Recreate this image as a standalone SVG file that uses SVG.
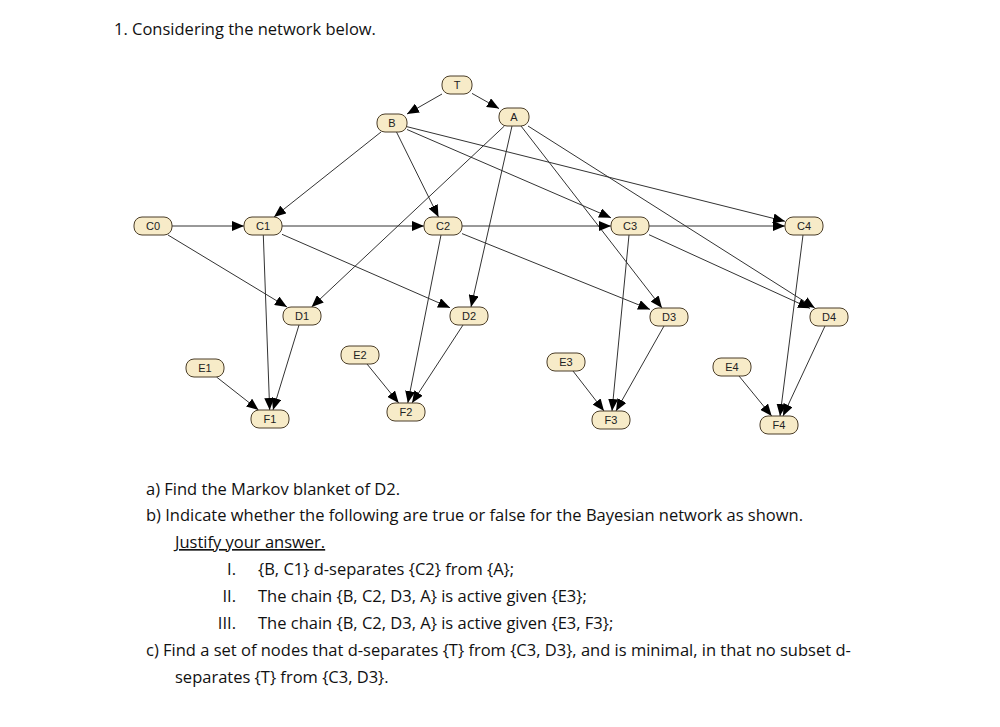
<svg xmlns="http://www.w3.org/2000/svg" width="1000" height="727" viewBox="0 0 1000 727">
<style>
.n rect{fill:#f7ebc8;stroke:#4a3d28;stroke-width:1}
.n text{font-family:"Liberation Sans",Arial,sans-serif;font-size:11px;fill:#222;text-anchor:middle}
#edges line{stroke:#333;stroke-width:1;marker-end:url(#ah)}
.t{font-family:"Open Sans","Liberation Sans",sans-serif;font-size:16.5px;fill:#111}
</style>
<defs>
<marker id="ah" markerUnits="userSpaceOnUse" markerWidth="12" markerHeight="10" refX="12" refY="5" orient="auto"><path d="M0,0 L12,5 L0,10 Z" fill="#000"/></marker>
</defs>
<rect width="1000" height="727" fill="#fff"/>
<g id="edges">
<line x1="442" y1="94" x2="407" y2="114"/>
<line x1="472" y1="93.4" x2="499" y2="108.6"/>
<line x1="381" y1="132" x2="274" y2="217"/>
<line x1="396.5" y1="132" x2="438.5" y2="217"/>
<line x1="407" y1="129.5" x2="611" y2="217.8"/>
<line x1="407" y1="126.7" x2="785" y2="221.3"/>
<line x1="504.4" y1="126" x2="311.6" y2="307"/>
<line x1="512" y1="126" x2="471" y2="307"/>
<line x1="521" y1="126" x2="662" y2="308"/>
<line x1="528" y1="126" x2="814.8" y2="308"/>
<line x1="172" y1="226" x2="244" y2="226"/>
<line x1="168" y1="235" x2="287" y2="307"/>
<line x1="282" y1="226" x2="424" y2="226"/>
<line x1="263.3" y1="235" x2="269.7" y2="410"/>
<line x1="282" y1="234.3" x2="450" y2="307.7"/>
<line x1="462" y1="226" x2="611" y2="226"/>
<line x1="441" y1="235" x2="407.8" y2="403"/>
<line x1="462" y1="233.6" x2="650" y2="309.4"/>
<line x1="649" y1="226" x2="785" y2="226"/>
<line x1="629" y1="235" x2="612" y2="411"/>
<line x1="649" y1="234.7" x2="810" y2="308.3"/>
<line x1="803" y1="235" x2="780" y2="416"/>
<line x1="299" y1="325" x2="273" y2="410"/>
<line x1="463" y1="325" x2="412" y2="403"/>
<line x1="664" y1="326" x2="616" y2="411"/>
<line x1="825" y1="326" x2="783" y2="416"/>
<line x1="216.5" y1="377" x2="258.5" y2="410"/>
<line x1="367" y1="364" x2="398.7" y2="403"/>
<line x1="573" y1="371" x2="604" y2="411"/>
<line x1="739" y1="376" x2="771.7" y2="416"/>
</g>
<g id="T" class="n"><rect x="442" y="76" width="30" height="18" rx="8"/><text x="457" y="89">T</text></g>
<g id="B" class="n"><rect x="377" y="114" width="30" height="18" rx="8"/><text x="392" y="127">B</text></g>
<g id="A" class="n"><rect x="499" y="108" width="30" height="18" rx="8"/><text x="514" y="121">A</text></g>
<g id="C0" class="n"><rect x="134" y="217" width="38" height="18" rx="8"/><text x="153" y="230">C0</text></g>
<g id="C1" class="n"><rect x="244" y="217" width="38" height="18" rx="8"/><text x="263" y="230">C1</text></g>
<g id="C2" class="n"><rect x="424" y="217" width="38" height="18" rx="8"/><text x="443" y="230">C2</text></g>
<g id="C3" class="n"><rect x="611" y="217" width="38" height="18" rx="8"/><text x="630" y="230">C3</text></g>
<g id="C4" class="n"><rect x="785" y="217" width="38" height="18" rx="8"/><text x="804" y="230">C4</text></g>
<g id="D1" class="n"><rect x="283" y="307" width="38" height="18" rx="8"/><text x="302" y="320">D1</text></g>
<g id="D2" class="n"><rect x="450" y="307" width="38" height="18" rx="8"/><text x="469" y="320">D2</text></g>
<g id="D3" class="n"><rect x="650" y="308" width="38" height="18" rx="8"/><text x="669" y="321">D3</text></g>
<g id="D4" class="n"><rect x="810" y="308" width="38" height="18" rx="8"/><text x="829" y="321">D4</text></g>
<g id="E1" class="n"><rect x="186" y="359" width="38" height="18" rx="8"/><text x="205" y="372">E1</text></g>
<g id="E2" class="n"><rect x="341" y="346" width="38" height="18" rx="8"/><text x="360" y="359">E2</text></g>
<g id="E3" class="n"><rect x="547" y="353" width="38" height="18" rx="8"/><text x="566" y="366">E3</text></g>
<g id="E4" class="n"><rect x="713" y="358" width="38" height="18" rx="8"/><text x="732" y="371">E4</text></g>
<g id="F1" class="n"><rect x="251" y="410" width="38" height="18" rx="8"/><text x="270" y="423">F1</text></g>
<g id="F2" class="n"><rect x="387" y="403" width="38" height="18" rx="8"/><text x="406" y="416">F2</text></g>
<g id="F3" class="n"><rect x="592" y="411" width="38" height="18" rx="8"/><text x="611" y="424">F3</text></g>
<g id="F4" class="n"><rect x="760" y="416" width="38" height="18" rx="8"/><text x="779" y="429">F4</text></g>
<g id="text">
<text class="t" x="114" y="35">1.  Considering the network below.</text>
<text class="t" x="146" y="495">a) Find the Markov blanket of D2.</text>
<text class="t" x="146" y="521">b) Indicate whether the following are true or false for the Bayesian network as shown.</text>
<text class="t" x="175" y="548" text-decoration="underline">Justify your answer.</text>
<text class="t" x="236" y="575" text-anchor="end">I.</text>
<text class="t" x="258" y="575">{B, C1} d-separates {C2} from {A};</text>
<text class="t" x="236" y="602" text-anchor="end">II.</text>
<text class="t" x="258" y="602">The chain {B, C2, D3, A} is active given {E3};</text>
<text class="t" x="236" y="629" text-anchor="end">III.</text>
<text class="t" x="258" y="629">The chain {B, C2, D3, A} is active given {E3, F3};</text>
<text class="t" x="146" y="656">c) Find a set of nodes that d-separates {T} from {C3, D3}, and is minimal, in that no subset d-</text>
<text class="t" x="175" y="683">separates {T} from {C3, D3}.</text>
</g>
</svg>
